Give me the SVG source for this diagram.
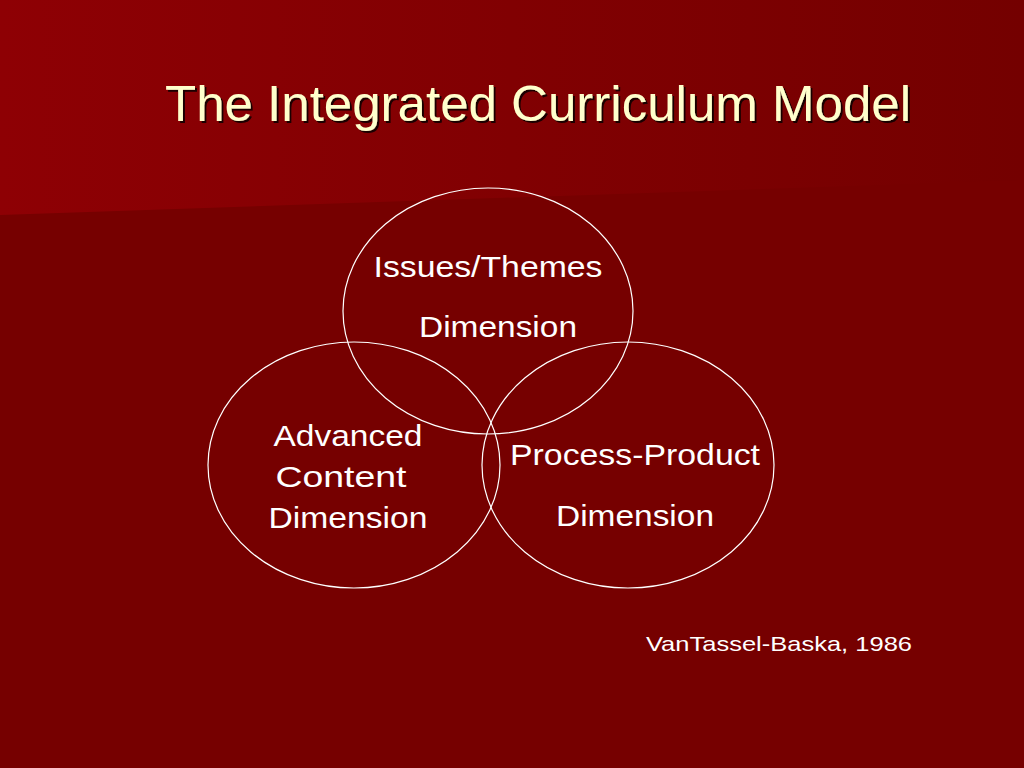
<svg xmlns="http://www.w3.org/2000/svg" width="1024" height="768" viewBox="0 0 1024 768">
<defs>
<linearGradient id="top" x1="0" y1="0" x2="1" y2="0"><stop offset="0" stop-color="#8e0004"/><stop offset="1" stop-color="#740000"/></linearGradient>
<filter id="sh"><feDropShadow dx="2" dy="2" stdDeviation="0.5" flood-color="#000" flood-opacity="0.8"/></filter>
<style>
.c{fill:none;stroke:#fff;stroke-width:1.2}
.t{font-family:"Liberation Sans",Arial,sans-serif;font-size:29px;fill:#fff;text-anchor:middle}
</style>
</defs>
<rect width="1024" height="768" fill="#760000"/>
<polygon points="0,0 1024,0 1024,180 0,215" fill="url(#top)"/>
<text x="165" y="121" font-family="'Liberation Sans Narrow','Liberation Sans',Arial,sans-serif" font-size="50" fill="#ffffcc" filter="url(#sh)" textLength="746" lengthAdjust="spacingAndGlyphs">The Integrated Curriculum Model</text>
<g id="issues"><ellipse class="c" cx="488" cy="311" rx="145" ry="123"/>
<text class="t" x="488" y="277" textLength="229" lengthAdjust="spacingAndGlyphs">Issues/Themes</text><text class="t" x="498" y="337" textLength="158" lengthAdjust="spacingAndGlyphs">Dimension</text></g>
<g id="content"><ellipse class="c" cx="354" cy="465" rx="146" ry="123"/>
<text class="t" x="348" y="446" textLength="149" lengthAdjust="spacingAndGlyphs">Advanced</text><text class="t" x="341" y="487" textLength="131" lengthAdjust="spacingAndGlyphs">Content</text><text class="t" x="348" y="528" textLength="159" lengthAdjust="spacingAndGlyphs">Dimension</text></g>
<g id="process"><ellipse class="c" cx="628" cy="465" rx="146" ry="123"/>
<text class="t" x="635" y="465" textLength="250" lengthAdjust="spacingAndGlyphs">Process-Product</text><text class="t" x="635" y="526" textLength="158" lengthAdjust="spacingAndGlyphs">Dimension</text></g>
<g id="connectors"/>
<text x="912" y="651" font-family="'Liberation Sans',Arial,sans-serif" font-size="21" fill="#fff" text-anchor="end" textLength="266" lengthAdjust="spacingAndGlyphs">VanTassel-Baska, 1986</text>
</svg>
